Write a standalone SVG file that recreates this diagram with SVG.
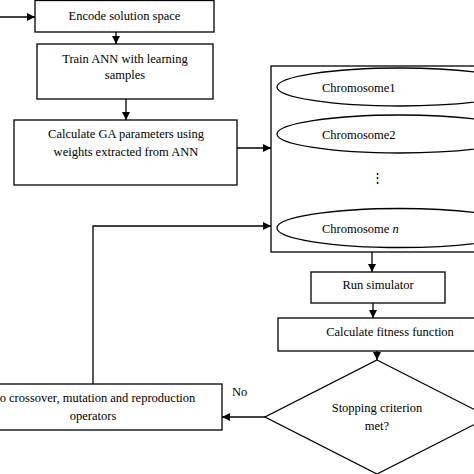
<svg xmlns="http://www.w3.org/2000/svg" width="474" height="474" viewBox="0 0 474 474">
<defs>
<marker id="ah" viewBox="0 0 10 10" refX="10" refY="5" markerWidth="8" markerHeight="8" markerUnits="userSpaceOnUse" orient="auto">
<path d="M0,0 L10,5 L0,10 z" fill="#000"/>
</marker>
</defs>
<style>
.b{fill:#fff;stroke:#000;stroke-width:1.3}
.t{font-family:"Liberation Serif","Times New Roman",serif;font-size:12.5px;fill:#000}
.c{text-anchor:middle}
.l{fill:none;stroke:#000;stroke-width:1.3}
</style>
<rect width="474" height="474" fill="#fff"/>
<g id="encode">
<rect class="b" x="35" y="0.5" width="179" height="31.5"/>
<text class="t c" x="124.5" y="20">Encode solution space</text>
</g>
<g id="train">
<rect class="b" x="37" y="44" width="176" height="55"/>
<text class="t c" x="125" y="63">Train ANN with learning</text>
<text class="t c" x="125" y="79">samples</text>
</g>
<g id="ga">
<rect class="b" x="14" y="120" width="223" height="65"/>
<text class="t c" x="126" y="138">Calculate GA parameters using</text>
<text class="t c" x="126" y="156">weights extracted from ANN</text>
</g>
<g id="population">
<rect class="b" x="271" y="66" width="210" height="186"/>
<ellipse class="b" cx="400" cy="87" rx="123" ry="19"/>
<text class="t" x="322" y="92">Chromosome1</text>
<ellipse class="b" cx="400" cy="134" rx="123" ry="19"/>
<text class="t" x="322" y="139">Chromosome2</text>
<text class="t c" x="377" y="182">⋮</text>
<ellipse class="b" cx="400" cy="228" rx="123" ry="19.5"/>
<text class="t" x="322" y="233">Chromosome <tspan font-style="italic">n</tspan></text>
</g>
<g id="runsim">
<rect class="b" x="311" y="272" width="134" height="31"/>
<text class="t c" x="378" y="289">Run simulator</text>
</g>
<g id="fitness">
<rect class="b" x="278" y="318" width="200" height="33"/>
<text class="t c" x="390" y="336">Calculate fitness function</text>
</g>
<g id="stop">
<polygon class="b" points="377,360 489,417 377,474 265,417"/>
<text class="t c" x="377" y="412">Stopping criterion</text>
<text class="t c" x="377" y="430">met?</text>
</g>
<g id="operators">
<rect class="b" x="-10" y="384" width="232" height="46"/>
<text class="t c" x="93" y="402">Do crossover, mutation and reproduction</text>
<text class="t c" x="93" y="420">operators</text>
</g>
<g id="connectors">
<line class="l" x1="0" y1="17" x2="35" y2="17" marker-end="url(#ah)"/>
<line class="l" x1="116" y1="32" x2="116" y2="44" marker-end="url(#ah)"/>
<line class="l" x1="126" y1="99" x2="126" y2="120" marker-end="url(#ah)"/>
<line class="l" x1="237" y1="148" x2="271" y2="148" marker-end="url(#ah)"/>
<line class="l" x1="372" y1="252" x2="372" y2="272" marker-end="url(#ah)"/>
<line class="l" x1="373" y1="303" x2="373" y2="318" marker-end="url(#ah)"/>
<line class="l" x1="377" y1="351" x2="377" y2="360" marker-end="url(#ah)"/>
<line class="l" x1="265" y1="417" x2="222" y2="417" marker-end="url(#ah)"/>
<polyline class="l" points="93,384 93,226 271,226" marker-end="url(#ah)"/>
<text class="t" x="232" y="396">No</text>
</g>
</svg>
